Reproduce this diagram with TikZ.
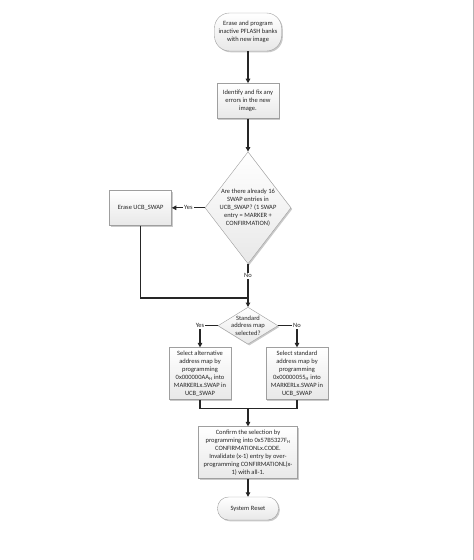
\documentclass[tikz,border=0pt]{standalone}
\usepackage{fontspec}
\setmainfont{Carlito}
\usepackage{tikz}
\usetikzlibrary{shapes.geometric, arrows.meta, positioning, shadows, calc}

\begin{document}
\begin{tikzpicture}[
        x=1pt, y=1pt,
        node distance=32pt and 33pt,
        boxfill/.style={draw=gray!75, top color=white, bottom color=gray!18, text=black!85,
            font=\fontsize{6.5}{7.9}\selectfont, align=center,
            drop shadow={shadow xshift=1.3pt, shadow yshift=-1.3pt, fill=gray!70, opacity=0.6}},
        block/.style={boxfill, rectangle, inner sep=2pt, minimum width=62pt, minimum height=35pt},
        terminal/.style={boxfill, rectangle, rounded corners=11pt, inner sep=2pt},
        decision/.style={boxfill, diamond},
        line/.style={draw=black!85, line width=1.2pt, -{Triangle[length=4.5pt, width=4.5pt]}},
        wire/.style={draw=black!85, line width=1.2pt},
        lbl/.style={fill=white, inner sep=1pt, text=black!85, font=\fontsize{6.5}{7.9}\selectfont}
        ]
        \useasboundingbox (0,0) rectangle (474,-560);

        % Nodes
        \node [terminal, minimum width=67pt, minimum height=38pt, rounded corners=15pt] (erasebank) at (248,-32)
            {Erase and program\\inactive PFLASH banks\\with new image};
        \node [block, below=of erasebank] (fixerr) {Identify and fix any\\errors in the new\\image.};
        \node [decision, below=33pt of fixerr, shape aspect=0.77, inner sep=-1pt,
            minimum width=86pt, minimum height=112pt] (check)
            {Are there already 16\\SWAP entries in\\UCB\_SWAP? (1 SWAP\\entry = MARKER +\\CONFIRMATION)};
        \node [block, left=of check] (eraseucb) {Erase UCB\_SWAP};
        \coordinate [below=34pt of check.south] (join);
        \node [decision, below=43pt of check, shape aspect=1.62, inner sep=-2.5pt,
            minimum width=60pt, minimum height=37pt] (stdsel) {Standard\\address map\\selected?};
        \node [block, below=3pt of stdsel, xshift=-48pt, minimum height=52pt] (altmap)
            {Select alternative\\address map by\\programming\\0x000000AA\textsubscript{H} into\\MARKERLx.SWAP in\\UCB\_SWAP};
        \node [block, below=3pt of stdsel, xshift=49pt, minimum height=52pt] (stdmap)
            {Select standard\\address map by\\programming\\0x00000055\textsubscript{H} into\\MARKERLx.SWAP in\\UCB\_SWAP};
        \node [block, below=82pt of stdsel, minimum width=99pt, minimum height=52pt] (confirm)
            {Confirm the selection by\\programming into 0x57B5327F\textsubscript{H}\\CONFIRMATIONLx.CODE.\\Invalidate (x-1) entry by over-\\programming CONFIRMATIONL(x-\\1) with all-1.};
        \coordinate [above=18pt of confirm.north] (merge);
        \node [terminal, below=18pt of confirm, minimum width=61pt, minimum height=23pt] (reset) {System Reset};

        % Edges
        \path [line] (erasebank) -- (fixerr);
        \path [line] (fixerr) -- (check);
        \path [line] (check) -- node [lbl] {Yes} (eraseucb);
        \path [wire] (check) -- node [lbl, pos=0.35] {No} (join);
        \path [wire] (eraseucb) |- (join);
        \path [line] (join) -- (stdsel);
        \path [line] (stdsel.west) -| node [lbl] {Yes} (altmap.north);
        \path [line] (stdsel.east) -| node [lbl] {No} (stdmap.north);
        \path [wire] (altmap) |- (merge) -| (stdmap);
        \path [line] (merge) -- (confirm);
        \path [line] (confirm) -- (reset);

        % frame edge
        \draw [gray!60, line width=0.8pt] (473,0) -- (473,-560);
    \end{tikzpicture}
\end{document}
